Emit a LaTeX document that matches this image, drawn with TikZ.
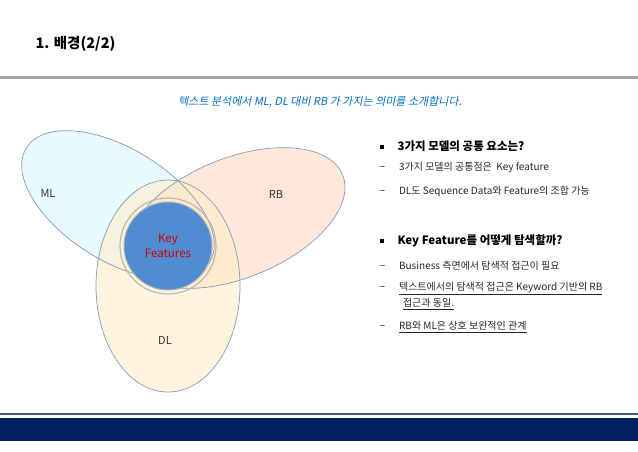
\documentclass[tikz,border=0pt]{standalone}
\usepackage{fontspec}
\setmainfont{Noto Sans CJK KR}
\newfontfamily\slantfont[FakeSlant=0.2]{Noto Sans CJK KR}
\usetikzlibrary{positioning}
\definecolor{navy}{RGB}{0,32,96}
\definecolor{ttl}{RGB}{0,112,192}
\definecolor{edge}{RGB}{135,155,185}
\definecolor{kfb}{RGB}{80,140,210}
\tikzset{
 venn/.style={draw=edge, line width=0.7pt},
 lbl/.style={font=\fontsize{11}{13}\selectfont, text=black!80},
 bul/.style={anchor=west, font=\bfseries\fontsize{11.5}{14}\selectfont},
 itm/.style={anchor=west, font=\fontsize{10}{16}\selectfont, align=left, text=black!85}
}
\newcommand{\sqb}{\raisebox{1.5pt}{\rule{4pt}{4pt}}\hspace{14pt}}
\newcommand{\dsh}{−\hspace{14pt}}
\begin{document}
\begin{tikzpicture}[x=1pt,y=-1pt]
\useasboundingbox (0,0) rectangle (638,451);
\node[anchor=west, font=\bfseries\fontsize{14.5}{16}\selectfont] (title) at (32,44) {1. 배경(2/2)};
\fill[gray!70] (0,75.5) rectangle (638,78.5);
\node[font=\slantfont\fontsize{11}{13}\selectfont, text=ttl] (sub) at (320,102) {텍스트 분석에서 ML, DL 대비 RB 가 가지는 의미를 소개합니다.};
% venn
\fill[blue!20!cyan!15, opacity=0.6] (118,205) ellipse[x radius=108, y radius=56, rotate=-32];
\fill[red!25!orange!25, opacity=0.6] (236,218) ellipse[x radius=115, y radius=60, rotate=22];
\fill[yellow!35!orange!20, opacity=0.6] (168,286) ellipse[x radius=72, y radius=106];
\draw[venn] (118,205) ellipse[x radius=108, y radius=56, rotate=-32];
\draw[venn] (236,218) ellipse[x radius=115, y radius=60, rotate=22];
\draw[venn] (168,286) ellipse[x radius=72, y radius=106];
\draw[gray!55, line width=1.2pt] (168,246) circle (48);
\node[circle, minimum size=88pt, fill=kfb, draw=gray!60, line width=1pt, text=red!85!black, align=center, font=\fontsize{11.5}{15}\selectfont] (kf) at (168,246) {Key\\Features};
\node[lbl] (ml) at (48,193) {ML};
\node[lbl] (rb) at (276,194) {RB};
\node[lbl] (dl) at (165,340) {DL};
% right text
\node[bul] (b1) at (376,146) {\sqb 3가지 모델의 공통 요소는?};
\node[itm] (i1) at (376,168) {\dsh 3가지 모델의 공통점은\ \ Key feature};
\node[itm] (i2) at (376,191) {\dsh DL도 Sequence Data와 Feature의 조합 가능};
\node[bul] (b2) at (376,241) {\sqb Key Feature를 어떻게 탐색할까?};
\node[itm, anchor=north west] (i4) at (376,279) {\dsh\underline{텍스트에서의 탐색적 접근은 Keyword 기반의 RB}\\\hspace{23.5pt}\underline{접근과 동일.}};
\node[itm] (i3) at (376,266) {\dsh Business 측면에서 탐색적 접근이 필요};
\node[itm] (i5) at (376,327) {\dsh\underline{RB와 ML은 상호 보완적인 관계}};
% footer
\fill[navy!75] (0,412.5) rectangle (638,415);
\fill[navy] (0,418) rectangle (638,441);
\end{tikzpicture}
\end{document}
